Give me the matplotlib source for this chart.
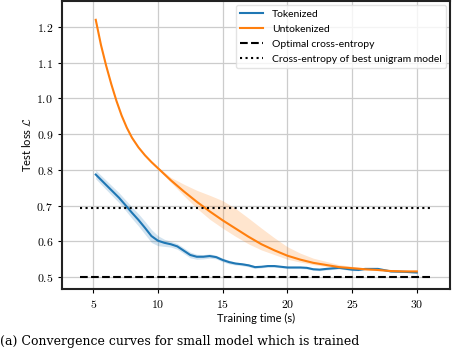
import numpy as np
import matplotlib
matplotlib.use('Agg')
import matplotlib.pyplot as plt
from matplotlib.ticker import FormatStrFormatter

plt.rcParams['mathtext.fontset'] = 'cm'
plt.rcParams['font.family'] = ['Lato', 'DejaVu Sans']

# tokenized run (mean and band half-width)
tok_t = [5.2, 6, 7, 7.6, 8, 8.5, 9, 9.5, 10, 10.5, 11, 11.5, 12, 12.5, 13, 13.5,
         14, 14.5, 15, 15.5, 16, 16.5, 17, 17.5, 18, 18.5, 19, 19.5, 20, 21, 21.5,
         22, 22.5, 23, 24, 25, 25.5, 26, 27, 28, 29, 30]
tok_loss = [0.787, 0.758, 0.722, 0.697, 0.680, 0.660, 0.638, 0.615, 0.602, 0.596,
            0.592, 0.586, 0.574, 0.562, 0.557, 0.557, 0.559, 0.556, 0.548, 0.542,
            0.538, 0.536, 0.533, 0.528, 0.529, 0.531, 0.531, 0.529, 0.527, 0.527,
            0.526, 0.522, 0.521, 0.523, 0.526, 0.521, 0.520, 0.523, 0.523, 0.516,
            0.515, 0.513]
tok_err = [0.012, 0.013, 0.014, 0.015, 0.016, 0.017, 0.018, 0.018, 0.014, 0.010,
           0.008, 0.008, 0.008, 0.008, 0.007, 0.006, 0.006, 0.005, 0.005, 0.005,
           0.004, 0.004, 0.004, 0.004, 0.003, 0.003, 0.003, 0.003, 0.003, 0.003,
           0.003, 0.003, 0.003, 0.003, 0.003, 0.003, 0.002, 0.002, 0.002, 0.002,
           0.002, 0.002]

# untokenized run (mean, band above, band below)
unt_t = [5.2, 5.6, 6.0, 6.4, 6.8, 7.2, 7.6, 8.0, 8.5, 9.0, 9.5, 10, 11, 12, 13, 14,
         15, 16, 17, 18, 19, 20, 21, 22, 23, 24, 25, 26, 27, 28, 29, 30]
unt_loss = [1.220, 1.150, 1.092, 1.040, 0.993, 0.952, 0.918, 0.890, 0.863, 0.841,
            0.822, 0.805, 0.771, 0.740, 0.711, 0.684, 0.659, 0.636, 0.613, 0.592,
            0.575, 0.560, 0.549, 0.540, 0.534, 0.528, 0.525, 0.522, 0.520, 0.517,
            0.516, 0.516]
unt_up = [0.002, 0.002, 0.002, 0.002, 0.002, 0.002, 0.002, 0.002, 0.002, 0.002,
          0.003, 0.003, 0.008, 0.020, 0.032, 0.045, 0.055, 0.056, 0.052, 0.045,
          0.035, 0.025, 0.018, 0.013, 0.010, 0.007, 0.005, 0.004, 0.003, 0.003,
          0.002, 0.002]
unt_dn = [0.002, 0.002, 0.002, 0.002, 0.002, 0.002, 0.002, 0.002, 0.002, 0.002,
          0.003, 0.003, 0.006, 0.012, 0.018, 0.022, 0.022, 0.022, 0.020, 0.016,
          0.012, 0.010, 0.007, 0.005, 0.004, 0.003, 0.003, 0.002, 0.002, 0.002,
          0.002, 0.002]

ref_t = [4, 31]
optimal_ce = 0.5
unigram_ce = 0.693

blue = '#1f77b4'
orange = '#ff7f0e'

fig = plt.figure(figsize=(4.74, 3.5), dpi=100)
ax = fig.add_axes([0.131, 0.174, 0.818, 0.823])

tl = np.array(tok_loss)
te = np.array(tok_err)
ax.fill_between(tok_t, tl - te, tl + te, color=blue, alpha=0.2, lw=0)
ax.plot(tok_t, tl, color=blue, lw=1.5, label='Tokenized')

ul = np.array(unt_loss)
ax.fill_between(unt_t, ul - np.array(unt_dn), ul + np.array(unt_up),
                color=orange, alpha=0.2, lw=0)
ax.plot(unt_t, ul, color=orange, lw=1.5, label='Untokenized')

ax.plot(ref_t, [optimal_ce] * 2, color='black', ls='--', lw=1.5,
        label='Optimal cross-entropy')
ax.plot(ref_t, [unigram_ce] * 2, color='black', ls=':', lw=1.5,
        label='Cross-entropy of best unigram model')

ax.set_xlim(2.6, 32.55)
ax.set_ylim(0.4665, 1.2725)
ax.set_xticks([5, 10, 15, 20, 25, 30])
ax.set_yticks([0.5, 0.6, 0.7, 0.8, 0.9, 1.0, 1.1, 1.2])
ax.xaxis.set_major_formatter(FormatStrFormatter('$%d$'))
ax.yaxis.set_major_formatter(FormatStrFormatter('$%.1f$'))
ax.tick_params(labelsize=8.5, length=3)
ax.grid(True, color='#cccccc', lw=0.9)
ax.set_axisbelow(True)
for s in ax.spines.values():
    s.set_linewidth(1.5)
    s.set_color('#222222')

ax.set_xlabel('Training time (s)', fontsize=8, labelpad=2)
ax.set_ylabel(r'Test loss $\mathcal{L}$', fontsize=8, labelpad=2)
ax.legend(loc='upper right', fontsize=7.5, framealpha=0.8, edgecolor='#dddddd',
          handlelength=2.2, borderaxespad=0.4, labelspacing=0.55)

fig.text(0.0, 0.005, '(a) Convergence curves for small model which is trained',
         fontsize=9, family='DejaVu Serif', va='bottom', ha='left')

fig.savefig('out.png', dpi=100)
